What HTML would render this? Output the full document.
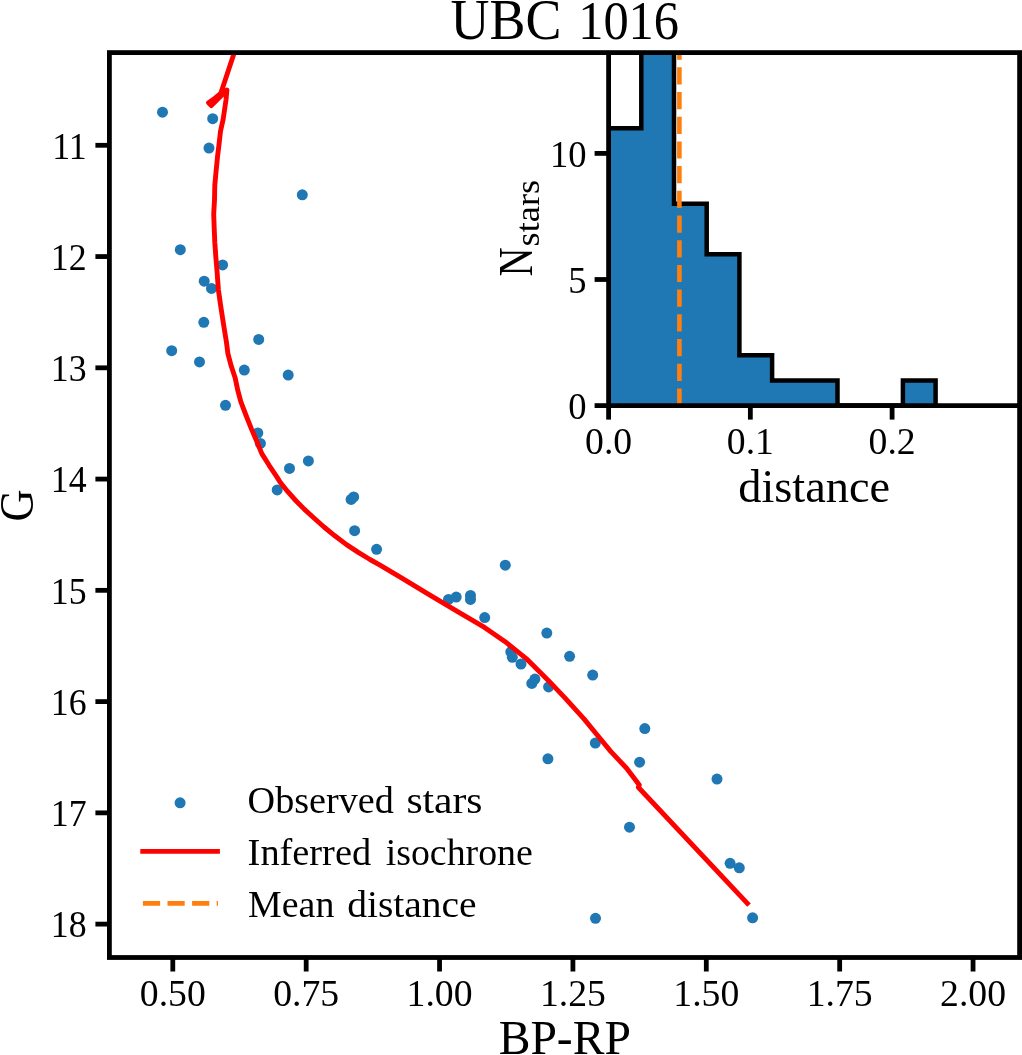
<!DOCTYPE html><html><head><meta charset="utf-8"><title>UBC 1016</title><style>html,body{margin:0;padding:0;background:#fff;}svg{display:block;}</style></head><body><svg width="1022" height="1055" viewBox="0 0 1022 1055">
<rect x="0" y="0" width="1022" height="1055" fill="#fff"/>
<defs><clipPath id="cm"><rect x="109.4" y="52.6" width="910.2" height="904.9"/></clipPath><clipPath id="ci"><rect x="608.6" y="52.6" width="411.0" height="353.0"/></clipPath></defs>
<g clip-path="url(#cm)" fill="#1f77b4">
<circle cx="162.5" cy="112.2" r="5.5"/>
<circle cx="212.7" cy="118.7" r="5.5"/>
<circle cx="209.0" cy="148.1" r="5.5"/>
<circle cx="302.3" cy="194.8" r="5.5"/>
<circle cx="180.3" cy="249.7" r="5.5"/>
<circle cx="222.6" cy="264.9" r="5.5"/>
<circle cx="204.2" cy="281.2" r="5.5"/>
<circle cx="211.5" cy="288.4" r="5.5"/>
<circle cx="203.8" cy="322.3" r="5.5"/>
<circle cx="258.7" cy="339.4" r="5.5"/>
<circle cx="171.7" cy="350.7" r="5.5"/>
<circle cx="199.5" cy="361.9" r="5.5"/>
<circle cx="244.3" cy="370.1" r="5.5"/>
<circle cx="288.2" cy="375.1" r="5.5"/>
<circle cx="225.5" cy="405.3" r="5.5"/>
<circle cx="257.8" cy="433.0" r="5.5"/>
<circle cx="260.4" cy="443.4" r="5.5"/>
<circle cx="289.5" cy="468.4" r="5.5"/>
<circle cx="308.4" cy="460.9" r="5.5"/>
<circle cx="277.2" cy="489.9" r="5.5"/>
<circle cx="351.1" cy="499.4" r="5.5"/>
<circle cx="353.7" cy="496.9" r="5.5"/>
<circle cx="354.6" cy="530.7" r="5.5"/>
<circle cx="376.6" cy="549.3" r="5.5"/>
<circle cx="505.3" cy="565.2" r="5.5"/>
<circle cx="448.5" cy="599.4" r="5.5"/>
<circle cx="456.2" cy="597.1" r="5.5"/>
<circle cx="470.5" cy="595.5" r="5.5"/>
<circle cx="470.5" cy="599.4" r="5.5"/>
<circle cx="484.7" cy="617.6" r="5.5"/>
<circle cx="546.8" cy="633.1" r="5.5"/>
<circle cx="510.8" cy="651.8" r="5.5"/>
<circle cx="512.3" cy="657.3" r="5.5"/>
<circle cx="521.0" cy="664.0" r="5.5"/>
<circle cx="569.6" cy="656.3" r="5.5"/>
<circle cx="592.7" cy="675.1" r="5.5"/>
<circle cx="531.8" cy="683.4" r="5.5"/>
<circle cx="534.9" cy="679.1" r="5.5"/>
<circle cx="548.6" cy="686.9" r="5.5"/>
<circle cx="644.8" cy="728.6" r="5.5"/>
<circle cx="595.3" cy="743.1" r="5.5"/>
<circle cx="547.9" cy="758.8" r="5.5"/>
<circle cx="639.6" cy="762.2" r="5.5"/>
<circle cx="629.5" cy="827.2" r="5.5"/>
<circle cx="717.0" cy="779.1" r="5.5"/>
<circle cx="730.1" cy="863.3" r="5.5"/>
<circle cx="739.3" cy="867.8" r="5.5"/>
<circle cx="752.6" cy="917.8" r="5.5"/>
<circle cx="595.5" cy="918.3" r="5.5"/>
</g>
<path d="M749.0,905.1 L638.3,787.2 L639.3,785.0 L626.6,768.2 L610.7,751.4 L597.0,734.8 L584.2,719.1 L564.7,697.6 L548.3,680.4 L527.5,659.7 L507.0,643.1 L484.5,627.4 L458.1,611.9 L428.7,594.3 L399.4,576.7 L380.0,565.1 L370.0,559.5 L358.3,552.4 L346.5,544.6 L334.8,535.8 L324.0,527.0 L314.2,518.2 L304.5,509.4 L295.7,500.5 L287.8,491.7 L280.0,482.0 L277.0,477.1 L269.1,465.3 L261.8,453.6 L257.4,442.8 L251.5,429.1 L245.7,414.5 L240.8,401.7 L237.7,390.0 L235.2,378.1 L231.3,366.3 L227.9,353.6 L226.4,341.9 L223.5,324.2 L220.5,304.7 L218.4,289.8 L217.0,270.8 L215.8,256.6 L214.8,242.4 L214.2,228.2 L213.7,214.0 L214.5,200.0 L214.8,185.3 L216.1,171.1 L217.5,156.9 L218.9,145.5 L220.5,131.3 L223.2,119.0 L226.0,100.0 L226.9,90.0 L211.3,105.6 L208.6,102.8 L213.2,99.6 L220.8,93.3 L233.5,54.9 L235.2,50.0" fill="none" stroke="#ff0000" stroke-width="4.9" stroke-linejoin="round" stroke-linecap="butt" clip-path="url(#cm)"/>
<rect x="608.6" y="52.6" width="411.0" height="353.0" fill="#fff"/>
<g clip-path="url(#ci)">
<path d="M608.60,405.60 L608.60,128.18 L641.30,128.18 L641.30,-351.00 L674.00,-351.00 L674.00,203.84 L706.70,203.84 L706.70,254.28 L739.40,254.28 L739.40,355.16 L772.10,355.16 L772.10,380.38 L804.80,380.38 L804.80,380.38 L837.50,380.38 L837.50,405.60 L870.20,405.60 L870.20,405.60 L902.90,405.60 L902.90,380.38 L935.60,380.38 L935.60,405.60 Z" fill="#1f77b4" stroke="none"/>
<path d="M608.60,405.60 L608.60,128.18 L641.30,128.18 L641.30,-351.00 L674.00,-351.00 L674.00,203.84 L706.70,203.84 L706.70,254.28 L739.40,254.28 L739.40,355.16 L772.10,355.16 L772.10,380.38 L804.80,380.38 L804.80,380.38 L837.50,380.38 L837.50,405.60 L870.20,405.60 L870.20,405.60 L902.90,405.60 L902.90,380.38 L935.60,380.38 L935.60,405.60" fill="none" stroke="#000" stroke-width="4.5" stroke-linejoin="miter" stroke-linecap="butt"/>
<line x1="679.40" y1="405.6" x2="679.40" y2="50.6" stroke="#ff7f0e" stroke-width="4.6" stroke-dasharray="17.2 7.5"/>
</g>
<g fill="none" stroke="#000" stroke-width="4.8" stroke-linecap="square">
<rect x="109.4" y="52.6" width="910.2" height="904.9" stroke-linejoin="miter"/>
<line x1="608.6" y1="405.6" x2="1019.6" y2="405.6" stroke-linecap="butt"/>
<line x1="608.6" y1="52.6" x2="608.6" y2="408.0" stroke-linecap="butt"/>
</g>
<g stroke="#000" stroke-width="4.8">
<line x1="172.80" y1="957.5" x2="172.80" y2="971.5"/>
<line x1="306.18" y1="957.5" x2="306.18" y2="971.5"/>
<line x1="439.55" y1="957.5" x2="439.55" y2="971.5"/>
<line x1="572.92" y1="957.5" x2="572.92" y2="971.5"/>
<line x1="706.30" y1="957.5" x2="706.30" y2="971.5"/>
<line x1="839.67" y1="957.5" x2="839.67" y2="971.5"/>
<line x1="973.05" y1="957.5" x2="973.05" y2="971.5"/>
<line x1="109.4" y1="145.30" x2="95.4" y2="145.30"/>
<line x1="109.4" y1="256.56" x2="95.4" y2="256.56"/>
<line x1="109.4" y1="367.82" x2="95.4" y2="367.82"/>
<line x1="109.4" y1="479.08" x2="95.4" y2="479.08"/>
<line x1="109.4" y1="590.34" x2="95.4" y2="590.34"/>
<line x1="109.4" y1="701.60" x2="95.4" y2="701.60"/>
<line x1="109.4" y1="812.86" x2="95.4" y2="812.86"/>
<line x1="109.4" y1="924.12" x2="95.4" y2="924.12"/>
<line x1="608.60" y1="405.6" x2="608.60" y2="419.6"/>
<line x1="750.35" y1="405.6" x2="750.35" y2="419.6"/>
<line x1="892.10" y1="405.6" x2="892.10" y2="419.6"/>
<line x1="608.6" y1="405.60" x2="594.6" y2="405.60"/>
<line x1="608.6" y1="279.50" x2="594.6" y2="279.50"/>
<line x1="608.6" y1="153.40" x2="594.6" y2="153.40"/>
</g>
<circle cx="180.1" cy="802.8" r="5.5" fill="#1f77b4"/>
<line x1="140.3" y1="851.4" x2="219.9" y2="851.4" stroke="#ff0000" stroke-width="4.8"/>
<line x1="142.9" y1="903.4" x2="218.0" y2="903.4" stroke="#ff7f0e" stroke-width="4.7" stroke-dasharray="17.2 7.4"/>
<g font-family="'Liberation Serif', 'DejaVu Serif', serif" fill="#000">
<text x="0" y="0" font-size="37.7" text-anchor="end" transform="translate(86.6,158.50) scale(0.95,1)">11</text>
<text x="0" y="0" font-size="37.7" text-anchor="end" transform="translate(86.6,269.76) scale(0.95,1)">12</text>
<text x="0" y="0" font-size="37.7" text-anchor="end" transform="translate(86.6,381.02) scale(0.95,1)">13</text>
<text x="0" y="0" font-size="37.7" text-anchor="end" transform="translate(86.6,492.28) scale(0.95,1)">14</text>
<text x="0" y="0" font-size="37.7" text-anchor="end" transform="translate(86.6,603.54) scale(0.95,1)">15</text>
<text x="0" y="0" font-size="37.7" text-anchor="end" transform="translate(86.6,714.80) scale(0.95,1)">16</text>
<text x="0" y="0" font-size="37.7" text-anchor="end" transform="translate(86.6,826.06) scale(0.95,1)">17</text>
<text x="0" y="0" font-size="37.7" text-anchor="end" transform="translate(86.6,937.32) scale(0.95,1)">18</text>
<text x="172.80" y="1006.3" font-size="37.7" text-anchor="middle">0.50</text>
<text x="306.18" y="1006.3" font-size="37.7" text-anchor="middle">0.75</text>
<text x="439.55" y="1006.3" font-size="37.7" text-anchor="middle">1.00</text>
<text x="572.92" y="1006.3" font-size="37.7" text-anchor="middle">1.25</text>
<text x="706.30" y="1006.3" font-size="37.7" text-anchor="middle">1.50</text>
<text x="839.67" y="1006.3" font-size="37.7" text-anchor="middle">1.75</text>
<text x="973.05" y="1006.3" font-size="37.7" text-anchor="middle">2.00</text>
<text x="608.60" y="454.4" font-size="37.7" text-anchor="middle">0.0</text>
<text x="750.35" y="454.4" font-size="37.7" text-anchor="middle">0.1</text>
<text x="892.10" y="454.4" font-size="37.7" text-anchor="middle">0.2</text>
<text x="0" y="0" font-size="37.7" text-anchor="end" transform="translate(586.6,418.80) scale(0.97,1)">0</text>
<text x="0" y="0" font-size="37.7" text-anchor="end" transform="translate(586.6,292.70) scale(0.97,1)">5</text>
<text x="0" y="0" font-size="37.7" text-anchor="end" transform="translate(586.6,166.60) scale(0.97,1)">10</text>
<text x="-0.88" y="0" font-size="56.26" transform="translate(451.40,38.80) scale(0.9579,1)">UBC</text>
<text x="-4.31" y="0" font-size="55.22" transform="translate(582.10,38.90) scale(0.9139,1)">1016</text>
<text x="-1.17" y="0" font-size="37.50" transform="translate(248.80,813.40) scale(1.0180,1)">Observed</text>
<text x="-1.17" y="0" font-size="37.50" transform="translate(407.70,813.40) scale(1.1076,1)">stars</text>
<text x="-1.17" y="0" font-size="37.50" transform="translate(248.80,864.80) scale(1.0229,1)">Inferred</text>
<text x="-0.59" y="0" font-size="37.50" transform="translate(386.30,864.80) scale(1.0092,1)">isochrone</text>
<text x="-0.59" y="0" font-size="37.50" transform="translate(248.70,916.80) scale(1.0107,1)">Mean</text>
<text x="-1.17" y="0" font-size="37.50" transform="translate(348.40,916.80) scale(1.0540,1)">distance</text>
<text x="-0.76" y="0" font-size="48.76" transform="translate(499.40,1054.00) scale(0.9757,1)">BP-RP</text>
<text x="-1.43" y="0" font-size="45.65" transform="translate(739.70,502.30) scale(1.0153,1)">distance</text>
<text x="-1.51" y="0" font-size="48.22" transform="translate(33.00,520.00) rotate(-90) scale(0.9198,1)">G</text>
<text x="-0.77" y="0" font-size="49.07" transform="translate(532.00,275.80) rotate(-90) scale(0.8241,1)">N</text>
<text x="-1.03" y="0" font-size="33.00" transform="translate(539.10,245.30) rotate(-90) scale(1.1013,1)">stars</text>
</g>
</svg></body></html>
